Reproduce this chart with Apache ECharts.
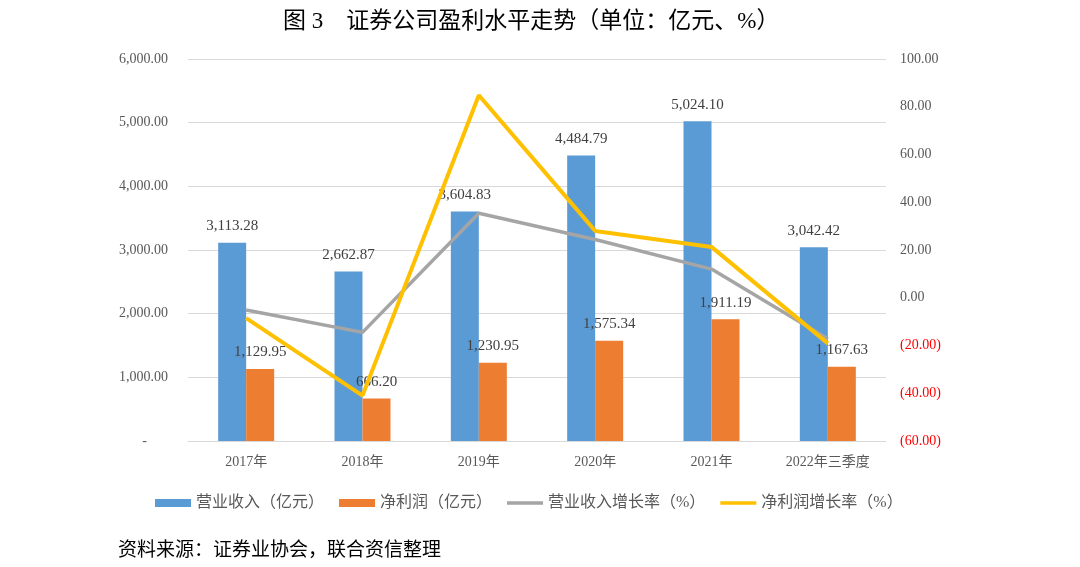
<!DOCTYPE html>
<html>
<head>
<meta charset="utf-8">
<script src="https://cdn.jsdelivr.net/npm/echarts@6/dist/echarts.min.js"></script>
<style>
    html, body { margin: 0; padding: 0; background: #fff; }
    #chart { width: 1080px; height: 567px; }
</style>
</head>
<body>
<div id="chart"></div>
<script>
var categories = ["2017年", "2018年", "2019年", "2020年", "2021年", "2022年三季度"];
var revenue = [3113.28, 2662.87, 3604.83, 4484.79, 5024.10, 3042.42];
var netProfit = [1129.95, 666.20, 1230.95, 1575.34, 1911.19, 1167.63];
var revenueGrowth = [-5.1, -14.5, 35.4, 24.4, 12.0, -17.2];
var profitGrowth = [-8.5, -41.0, 84.8, 28.0, 21.3, -19.1];

var serif = "'Liberation Serif', 'Noto Sans CJK SC'";
// thin bar used as legend icon for the two lines
var lineIcon = "path://M0,0 L40,0 L40,4 L0,4 Z";

function money(v) {
    return Number(v).toLocaleString("en-US", { minimumFractionDigits: 2, maximumFractionDigits: 2 });
}

var myChart = echarts.init(document.getElementById("chart"));
var option = {
    backgroundColor: "#fff",
    animation: false,
    title: [{
            text: "图 3　证券公司盈利水平走势（单位：亿元、%）",
            left: 278,
            top: 5,
            textStyle: { fontFamily: serif, fontSize: 23, fontWeight: "normal", color: "#000" },
        },
        {
            text: "资料来源：证券业协会，联合资信整理",
            left: 113,
            top: 537,
            textStyle: { fontFamily: serif, fontSize: 19, fontWeight: "normal", color: "#000" },
        },
    ],
    grid: { left: 188, right: 194, top: 59, bottom: 126 },
    legend: {
        top: 490,
        left: 150,
        itemWidth: 36,
        itemHeight: 8,
        itemGap: 15,
        textStyle: { fontFamily: serif, fontSize: 16, color: "#595959" },
        data: [
            { name: "营业收入（亿元）", icon: "rect" },
            { name: "净利润（亿元）", icon: "rect" },
            { name: "营业收入增长率（%）", icon: lineIcon },
            { name: "净利润增长率（%）", icon: lineIcon },
        ],
    },
    xAxis: {
        type: "category",
        data: categories,
        axisTick: { show: false },
        axisLine: { lineStyle: { color: "#D9D9D9", width: 1 } },
        axisLabel: { margin: 14, fontFamily: serif, fontSize: 14, color: "#595959" },
    },
    yAxis: [{
            type: "value",
            min: 0,
            max: 6000,
            interval: 1000,
            axisLine: { show: false },
            axisTick: { show: false },
            splitLine: { lineStyle: { color: "#D9D9D9", width: 1 } },
            axisLabel: {
                margin: 20,
                fontFamily: serif,
                fontSize: 14,
                color: "#595959",
                formatter: function(v) {
                    return v == 0 ? "-      " : money(v);
                },
            },
        },
        {
            type: "value",
            min: -60,
            max: 100,
            interval: 20,
            axisLine: { show: false },
            axisTick: { show: false },
            splitLine: { show: false },
            axisLabel: {
                margin: 14,
                fontFamily: serif,
                fontSize: 14,
                formatter: function(v) {
                    return v < 0 ? "{neg|(" + Math.abs(v).toFixed(2) + ")}" : "{pos|" + v.toFixed(2) + "}";
                },
                rich: {
                    pos: { color: "#595959", fontFamily: serif, fontSize: 14 },
                    neg: { color: "#FF0000", fontFamily: serif, fontSize: 14 },
                },
            },
        },
    ],
    series: [{
            name: "营业收入（亿元）",
            type: "bar",
            data: revenue,
            barWidth: 28,
            barGap: "0%",
            itemStyle: { color: "#5B9BD5" },
            label: {
                show: true,
                position: "top",
                distance: 9,
                fontFamily: serif,
                fontSize: 15,
                color: "#404040",
                formatter: function(p) { return money(p.value); },
            },
        },
        {
            name: "净利润（亿元）",
            type: "bar",
            data: netProfit,
            barWidth: 28,
            barGap: "0%",
            itemStyle: { color: "#ED7D31" },
            label: {
                show: true,
                position: "top",
                distance: 9,
                fontFamily: serif,
                fontSize: 15,
                color: "#404040",
                formatter: function(p) { return money(p.value); },
            },
        },
        {
            name: "营业收入增长率（%）",
            type: "line",
            yAxisIndex: 1,
            data: revenueGrowth,
            symbol: "none",
            lineStyle: { color: "#A5A5A5", width: 3.5 },
            itemStyle: { color: "#A5A5A5" },
        },
        {
            name: "净利润增长率（%）",
            type: "line",
            yAxisIndex: 1,
            data: profitGrowth,
            symbol: "none",
            lineStyle: { color: "#FFC000", width: 4 },
            itemStyle: { color: "#FFC000" },
        },
    ],
};
myChart.setOption(option);
</script>
</body>
</html>
